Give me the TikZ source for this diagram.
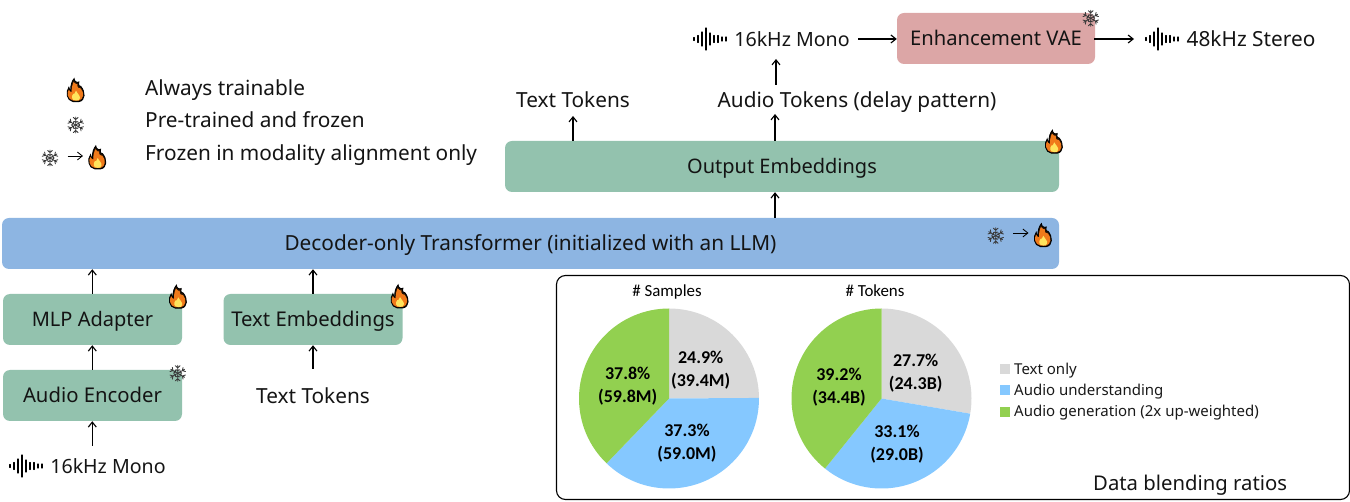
\documentclass[tikz,border=0pt]{standalone}
\usepackage{fontspec}
\usetikzlibrary{arrows.meta}
\setmainfont{Noto Sans}
\newfontfamily\calib{Carlito}
\definecolor{tgreen}{HTML}{93C2AE}
\definecolor{tblue}{HTML}{8DB5E2}
\definecolor{tred}{HTML}{DCA6A6}
\definecolor{pgrey}{HTML}{D9D9D9}
\definecolor{pblue}{HTML}{85C8FF}
\definecolor{pgreen}{HTML}{92D050}
\definecolor{flo}{HTML}{F07A1A}
\definecolor{fly}{HTML}{FFE45C}
\tikzset{
 x=1pt,y=-1pt,
 fs/.style={font=\fontsize{#1}{24}\selectfont},
 lab/.style={fs=20.8,inner sep=0pt,text=black!92,text height=18pt,text depth=3.5pt},
 box/.style={draw=none,rounded corners=7pt,inner sep=0pt,fs=20.8,text=black!92,text height=18pt,text depth=3.5pt},
 gbox/.style={box,fill=tgreen},
 arr/.style={draw=black,line width=1.15pt,-{Straight Barb[length=5pt,width=8pt]}},
 iarr/.style={draw=black,line width=.85pt,-{Straight Barb[length=5pt,width=8pt]}},
 pct/.style={font=\calib\bfseries\fontsize{18}{23}\selectfont,align=center,inner sep=0pt},
 ptitle/.style={font=\calib\fontsize{16.9}{20}\selectfont,inner sep=0pt},
 leg/.style={font=\fontsize{15}{18}\selectfont,inner sep=0pt,anchor=west,text=black!90,text height=12pt,text depth=3pt},
 pics/flame/.style={code={
  \begin{scope}[yscale=1.15]
  \fill[black!85!flo,draw=black,line width=.9pt]
   (-3,10) .. controls (-10,9) and (-11,1) .. (-7.5,-3)
   .. controls (-7,-1) and (-6.5,0) .. (-5.5,0)
   .. controls (-6,-5) and (-4,-9) .. (-2,-11)
   .. controls (-2,-8) and (2,-7) .. (3,-8)
   .. controls (2,-5) and (4,-3) .. (5,-4)
   .. controls (10,1) and (10,9) .. (3,10) -- cycle;
  \fill[flo]
   (-3,9) .. controls (-9,8) and (-10,2) .. (-7.5,-1)
   .. controls (-7,0) and (-6,1.5) .. (-4.5,1.5)
   .. controls (-5,-3) and (-3,-7) .. (-2.5,-8)
   .. controls (-1,-6) and (1,-5.5) .. (1.5,-6)
   .. controls (1,-3) and (3,-1.5) .. (5,-2)
   .. controls (9,2) and (8,8) .. (3,9) -- cycle;
  \fill[fly] (0,9) .. controls (-5,9) and (-5,5) .. (-3,3)
   .. controls (-2,4) and (-1,2) .. (0,0)
   .. controls (1,2) and (5,5) .. (4,7) .. controls (3.5,9) and (2,9) .. (0,9) -- cycle;
  \end{scope}
 }},
 pics/flake/.style={code={
  \foreach \a in {30,90,150,210,270,330}{
   \begin{scope}[rotate=\a]
    \draw[black!78,line width=.85pt,line cap=round] (0,0) -- (8,0) (5.4,0) -- (7.6,2.4) (5.4,0) -- (7.6,-2.4) (2.6,0)--(3.6,1.7) (2.6,0)--(3.6,-1.7);
   \end{scope}
  }
 }},
 pics/wave/.style={code={
  \foreach \dx/\h in {0/1.5,4/3.5,8/7,12/11,16/6,20/3.5,24/3.5,28/2,32/2}{
   \draw[black,line width=1.3pt,line cap=round] (\dx,-\h) -- (\dx,\h);
  }
 }},
}
\begin{document}
\begin{tikzpicture}
\useasboundingbox (0,0) rectangle (1350,502);
% boxes
\node[gbox,fs=20,minimum width=554pt,minimum height=51pt] (out) at (782,166.5) {Output Embeddings};
\node[box,fill=tblue,minimum width=1057pt,minimum height=51pt] (dec) at (530.5,243.5) {Decoder-only Transformer (initialized with an LLM)};
\node[gbox,fs=20,minimum width=179pt,minimum height=51pt] (mlp) at (92.5,319.5) {MLP Adapter};
\node[gbox,fs=20.3,minimum width=179pt,minimum height=51pt] (enc) at (92.5,395.5) {Audio Encoder};
\node[gbox,fs=20.3,minimum width=179pt,minimum height=51pt] (tem) at (313,319.5) {Text Embeddings};
\node[box,fs=20.2,fill=tred,minimum width=198pt,minimum height=51pt] (vae) at (996,38.5) {Enhancement VAE};
% texts
\node[lab] (tt1) at (573,100) {Text Tokens};
\node[lab] (at) at (857,100) {Audio Tokens (delay pattern)};
\node[lab,fs=19.6] (m1) at (792,39) {16kHz Mono};
\node[lab] (st) at (1251,39) {48kHz Stereo};
\node[lab] (tt2) at (313,396) {Text Tokens};
\node[lab,fs=19.6] (m2) at (108,466) {16kHz Mono};
\node[lab,anchor=west] (l1) at (145,88) {Always trainable};
\node[lab,anchor=west] (l2) at (145,120) {Pre-trained and frozen};
\node[lab,anchor=west] (l3) at (145,153) {Frozen in modality alignment only};
% wave icons
\pic at (694,39) {wave};
\pic at (1146,39) {wave};
\pic at (10,466) {wave};
% legend icons
\pic[scale=.95] at (76,90.7) {flame};
\pic at (75.7,125) {flake};
\pic at (50,158) {flake};
\pic[scale=.95] at (97.7,158) {flame};
\coordinate (la1) at (67.7,156); \coordinate (la2) at (83,156);
\draw[iarr] (la1) -- (la2);
% box icons
\pic[scale=.95] at (1054.3,142.3) {flame};
\pic at (1090.7,18.3) {flake};
\pic at (995.7,235.7) {flake};
\coordinate (da1) at (1013,233); \coordinate (da2) at (1028.5,233);
\draw[iarr] (da1) -- (da2);
\pic[scale=.95] at (1043.3,235.7) {flame};
\pic[scale=.95] at (178.3,297.3) {flame};
\pic at (177.7,373.3) {flake};
\pic[scale=.95] at (400,297) {flame};
% arrows
\coordinate (a1) at (92.3,446);
\draw[arr] (a1) -- (a1|-enc.south);
\draw[arr] (a1|-enc.north) -- (a1|-mlp.south);
\draw[arr] (a1|-mlp.north) -- (a1|-dec.south);
\draw[arr] (tem.north) -- (tem.north|-dec.south);
\coordinate (a2) at (313,369);
\draw[arr] (a2) -- (tem.south);
\coordinate (ox) at (775,192);
\draw[arr] (ox|-dec.north) -- (ox|-out.south);
\coordinate (ot) at (573,141);
\coordinate (otb) at (573,116);
\draw[arr] (ot) -- (otb);
\coordinate (oa) at (775,141);
\coordinate (oab) at (775,114);
\draw[arr] (oa) -- (oab);
\coordinate (ab) at (776,85);
\coordinate (abt) at (776,59);
\draw[arr] (ab) -- (abt);
\coordinate (mv) at (858,39);
\draw[arr] (mv) -- (mv-|vae.west);
\coordinate (vs) at (1094,39);
\coordinate (vt) at (1134,39);
\draw[arr] (vs) -- (vt);
% panel
\node[draw=black,line width=1.1pt,rounded corners=9pt,minimum width=793pt,minimum height=224pt,inner sep=0pt] (panel) at (953,387.5) {};
\node[ptitle] (t1) at (667,292) {\# Samples};
\node[ptitle] (t2) at (875,290.5) {\# Tokens};
% pies
\coordinate (c1) at (669,398.5);
\coordinate (c2) at (881.5,398.5);
\fill[pgrey] (c1) -- ++(-90:90) arc[start angle=-90,delta angle=89.64,radius=90] -- cycle;
\fill[pblue] (c1) -- ++(-0.36:90) arc[start angle=-0.36,delta angle=134.28,radius=90] -- cycle;
\fill[pgreen] (c1) -- ++(133.92:90) arc[start angle=133.92,delta angle=136.08,radius=90] -- cycle;
\fill[pgrey] (c2) -- ++(-90:90) arc[start angle=-90,delta angle=99.72,radius=90] -- cycle;
\fill[pblue] (c2) -- ++(9.72:90) arc[start angle=9.72,delta angle=119.16,radius=90] -- cycle;
\fill[pgreen] (c2) -- ++(128.88:90) arc[start angle=128.88,delta angle=141.12,radius=90] -- cycle;
\node[pct] (p1) at (700.7,370.5) {24.9\%\\(39.4M)};
\node[pct] (p2) at (687,443.5) {37.3\%\\(59.0M)};
\node[pct] (p3) at (627.7,386) {37.8\%\\(59.8M)};
\node[pct] (p4) at (915.7,373) {27.7\%\\(24.3B)};
\node[pct] (p5) at (897,444) {33.1\%\\(29.0B)};
\node[pct] (p6) at (839,387) {39.2\%\\(34.4B)};
% legend
\node[fill=pgrey,minimum size=10pt,inner sep=0pt] (k1) at (1005,369) {};
\node[fill=pblue,minimum size=10pt,inner sep=0pt] (k2) at (1005,390) {};
\node[fill=pgreen,minimum size=10pt,inner sep=0pt] (k3) at (1005,412) {};
\node[leg] (g1) at (1014,370) {Text only};
\node[leg] (g2) at (1014,391) {Audio understanding};
\node[leg] (g3) at (1014,412.5) {Audio generation (2x up-weighted)};
\node[lab,anchor=west,fs=20.3] (dbr) at (1093,483) {Data blending ratios};
\end{tikzpicture}
\end{document}
